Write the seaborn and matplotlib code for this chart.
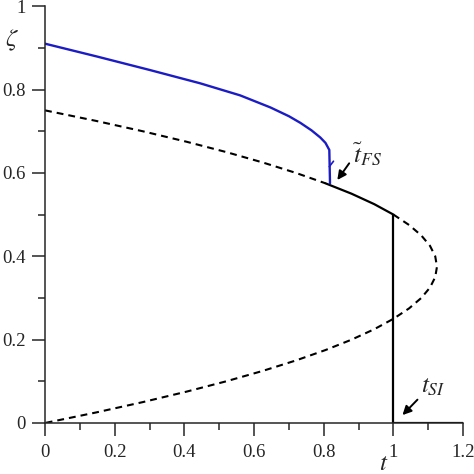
import matplotlib
matplotlib.use('Agg')
import matplotlib.pyplot as plt
import seaborn as sns
from matplotlib.ticker import MultipleLocator

# blue branch
blue_t = [0, 0.15, 0.30, 0.445, 0.56, 0.647, 0.70, 0.733, 0.765, 0.79, 0.805, 0.816, 0.818]
blue_z = [0.91, 0.879, 0.847, 0.815, 0.786, 0.757, 0.736, 0.720, 0.702, 0.685, 0.672, 0.655, 0.575]

# dashed upper branch
up_t = [0, 0.145, 0.28, 0.405, 0.52, 0.625, 0.72, 0.805]
up_z = [0.75, 0.725, 0.70, 0.675, 0.65, 0.625, 0.60, 0.575]

# solid black piece between the two fold points
mid_t = [0.805, 0.88, 0.945, 1.0]
mid_z = [0.575, 0.55, 0.525, 0.5]

# dashed right/lower branch
low_t = [1.0, 1.045, 1.08, 1.105, 1.12, 1.125, 1.12, 1.105, 1.08, 1.045, 1.0,
         0.945, 0.88, 0.805, 0.72, 0.625, 0.52, 0.405, 0.28, 0.145, 0]
low_z = [0.5, 0.475, 0.45, 0.425, 0.4, 0.375, 0.35, 0.325, 0.3, 0.275, 0.25,
         0.225, 0.2, 0.175, 0.15, 0.125, 0.1, 0.075, 0.05, 0.025, 0]

# jump at t = 1 and the zero branch after it
jump_t = [1.0, 1.0, 1.2]
jump_z = [0.5, 0.0, 0.0]

sns.set_style("ticks")
plt.rcParams['font.family'] = ['Liberation Serif', 'DejaVu Serif']
plt.rcParams['mathtext.fontset'] = 'stix'

fig = plt.figure(figsize=(4.74, 4.74), dpi=100)
ax = fig.add_axes([0.095, 0.1076, 0.882, 0.8794])

dash = (0, (3.3, 2.4))
sns.lineplot(x=up_t, y=up_z, sort=False, estimator=None, color='black', lw=1.5, linestyle=dash, ax=ax)
sns.lineplot(x=low_t, y=low_z, sort=False, estimator=None, color='black', lw=1.5, linestyle=dash, ax=ax)
sns.lineplot(x=mid_t, y=mid_z, sort=False, estimator=None, color='black', lw=1.6, ax=ax)
sns.lineplot(x=jump_t, y=jump_z, sort=False, estimator=None, color='black', lw=1.6, ax=ax)
sns.lineplot(x=blue_t, y=blue_z, sort=False, estimator=None, color='#1c1cc4', lw=1.7, ax=ax)
ax.plot([0.816, 0.828], [0.615, 0.628], color='#1c1cc4', lw=1.2)

ax.set_xlim(0, 1.2)
ax.set_ylim(0, 1)
ax.xaxis.set_minor_locator(MultipleLocator(0.1))
ax.yaxis.set_minor_locator(MultipleLocator(0.1))
ax.set_xticks([0, 0.2, 0.4, 0.6, 0.8, 1.0, 1.2])
ax.set_xticklabels(['0', '0.2', '0.4', '0.6', '0.8', '1', '1.2'])
ax.set_yticks([0, 0.2, 0.4, 0.6, 0.8, 1.0])
ax.set_yticklabels(['0', '0.2', '0.4', '0.6', '0.8', '1'])
ax.tick_params(which='major', length=9.2, width=1.1, labelsize=13.5, direction='out')
ax.tick_params(axis='x', which='major', pad=6)
ax.tick_params(axis='y', which='major', pad=5)
ax.tick_params(which='minor', length=5.2, width=1.1, direction='out')
for s in ['top', 'right']:
    ax.spines[s].set_visible(False)
for s in ['left', 'bottom']:
    ax.spines[s].set_linewidth(1.1)

fig.text(12 / 474, 1 - 40 / 474, r'$\zeta$', fontsize=18, ha='center', va='center')
fig.text(384 / 474, 1 - 464 / 474, r'$t$', fontsize=18, ha='center', va='center')

arrow = dict(arrowstyle='-|>', color='black', lw=1.4, mutation_scale=13, shrinkA=0, shrinkB=0)
ax.text(0.885, 0.645, r'$\tilde{t}_{FS}$', fontsize=18, va='center', ha='left')
ax.annotate('', xy=(0.839, 0.583), xytext=(0.873, 0.623), arrowprops=arrow)
ax.text(1.078, 0.086, r'$t_{SI}$', fontsize=18, va='center', ha='left')
ax.annotate('', xy=(1.026, 0.019), xytext=(1.069, 0.056), arrowprops=arrow)

for lab in ax.get_xticklabels():
    lab.set_clip_on(False)

plt.savefig('out.png', dpi=100)
